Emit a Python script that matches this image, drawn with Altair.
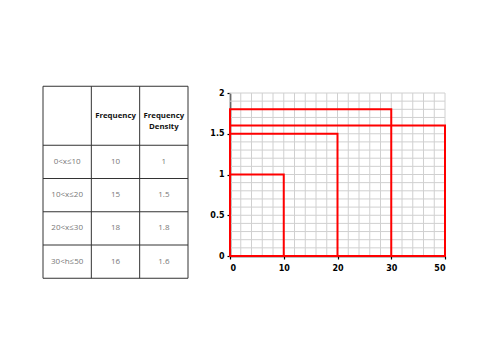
import altair as alt
import pandas as pd

# ---- data ----
row_labels = ["0<x≤10", "10<x≤20", "20<x≤30", "30<h≤50"]
frequencies = [10, 15, 18, 16]
densities = [1, 1.5, 1.8, 1.6]
header_labels = ["", "Frequency", "Frequency\nDensity"]
class_lower = [0, 0, 0, 0]
class_upper = [10, 20, 30, 50]
x_ticks = [0, 10, 20, 30, 50]
y_ticks = [0, 0.5, 1, 1.5, 2]

# ---- table ----
HEADER_H = 1.775
n_rows = len(row_labels)
total_h = HEADER_H + n_rows
n_cols = len(header_labels)

def fmt(v):
    return str(int(v)) if float(v).is_integer() else str(v)

header_df = pd.DataFrame({
    "cx": [i + 0.5 for i in range(n_cols)],
    "cy": [HEADER_H / 2] * n_cols,
    "t": header_labels,
})
body_rows = []
for i in range(n_rows):
    cy = HEADER_H + i + 0.5
    body_rows.append({"cx": 0.5, "cy": cy, "t": row_labels[i]})
    body_rows.append({"cx": 1.5, "cy": cy, "t": fmt(frequencies[i])})
    body_rows.append({"cx": 2.5, "cy": cy, "t": fmt(densities[i])})
body_df = pd.DataFrame(body_rows)

vlines = pd.DataFrame({"x": list(range(n_cols + 1)), "y": 0, "y2": total_h})
hlines = pd.DataFrame({"y": [0, HEADER_H] + [HEADER_H + i + 1 for i in range(n_rows)],
                       "x": 0, "x2": n_cols})

tx = alt.Scale(domain=[0, n_cols], nice=False, zero=False)
ty = alt.Scale(domain=[0, total_h], nice=False, zero=False, reverse=True)
line_color = "#333333"

t_v = alt.Chart(vlines).mark_rule(color=line_color, strokeWidth=1).encode(
    x=alt.X("x:Q", scale=tx, axis=None), y=alt.Y("y:Q", scale=ty, axis=None), y2="y2")
t_h = alt.Chart(hlines).mark_rule(color=line_color, strokeWidth=1).encode(
    y=alt.Y("y:Q", scale=ty, axis=None), x=alt.X("x:Q", scale=tx, axis=None), x2="x2")
t_head = alt.Chart(header_df).mark_text(
    font="Open Sans", fontWeight="bold", fontSize=7.8, color="#111111", lineBreak="\n",
    lineHeight=11).encode(
    x=alt.X("cx:Q", scale=tx, axis=None), y=alt.Y("cy:Q", scale=ty, axis=None), text="t:N")
t_body = alt.Chart(body_df).mark_text(
    font="Open Sans", fontSize=8, color="#777777").encode(
    x=alt.X("cx:Q", scale=tx, axis=None), y=alt.Y("cy:Q", scale=ty, axis=None), text="t:N")

table = alt.layer(t_v, t_h, t_head, t_body).properties(width=145, height=192)

# ---- histogram ----
W, H = 215, 163
n_int = len(x_ticks) - 1
x_range = [W * i / n_int for i in range(len(x_ticks))]
hx = alt.Scale(domain=x_ticks, range=x_range, nice=False, zero=False)
hy = alt.Scale(domain=[0, 2], nice=False)

grid_x = []
for a, b in zip(x_ticks[:-1], x_ticks[1:]):
    for k in range(5):
        grid_x.append(a + (b - a) * k / 5)
grid_x.append(x_ticks[-1])
grid_y = [round(i * 0.1, 1) for i in range(21)]

axis_common = dict(title=None, domainColor="black", domainWidth=1.5, tickColor="black",
                   tickSize=3, tickWidth=1.2, labelFont="DejaVu Sans", labelFontWeight="bold",
                   labelFontSize=8, labelColor="black", grid=False)
x_axis = alt.Axis(values=x_ticks, labelPadding=5, **axis_common)
y_axis = alt.Axis(values=y_ticks, labelPadding=3,
                  labelExpr="toString(datum.value)", **axis_common)

gx_df = pd.DataFrame({"v": grid_x})
gy_df = pd.DataFrame({"v": grid_y})
rect_df = pd.DataFrame({"lo": class_lower, "hi": class_upper,
                        "base": [0] * len(densities), "d": densities})

grid_color = "#d0d0d0"
g_v = alt.Chart(gx_df).mark_rule(color=grid_color, strokeWidth=1).encode(
    x=alt.X("v:Q", scale=hx, axis=x_axis))
g_h = alt.Chart(gy_df).mark_rule(color=grid_color, strokeWidth=1).encode(
    y=alt.Y("v:Q", scale=hy, axis=y_axis))
rects = alt.Chart(rect_df).mark_rect(fillOpacity=0, stroke="#ff0000", strokeWidth=2).encode(
    x=alt.X("lo:Q", scale=hx, axis=x_axis), x2="hi",
    y=alt.Y("base:Q", scale=hy, axis=y_axis), y2="d")

hist = alt.layer(g_v, g_h, rects).properties(width=W, height=H)

chart = alt.hconcat(table, hist, spacing=20, center=True).properties(
    padding={"left": 42, "top": 85, "right": 5, "bottom": 5},
    background="white",
).configure_view(stroke=None)

chart.save("out.html", embed_options={"renderer": "svg", "actions": False})
